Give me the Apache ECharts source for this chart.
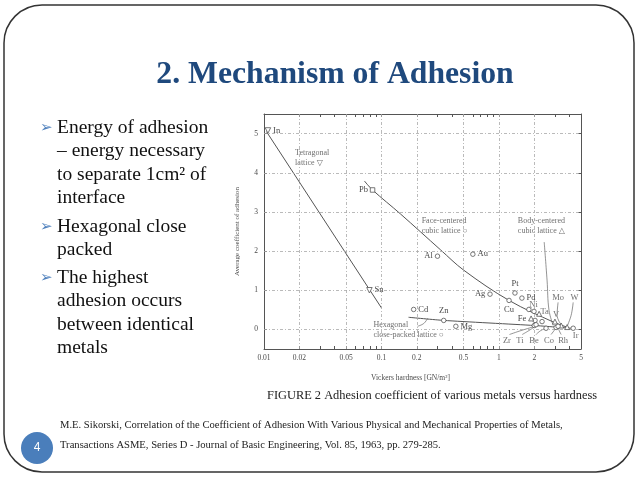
<!DOCTYPE html>
<html><head><meta charset="utf-8">
<script src="https://cdn.jsdelivr.net/npm/echarts@6/dist/echarts.min.js"></script>
<style>html,body{margin:0;padding:0;background:#fff}#c{width:638px;height:479px}</style>
</head><body><div id="c"></div>
<script>
// ---------- data ----------
const xTickLabels = [0.01, 0.02, 0.05, 0.1, 0.2, 0.5, 1, 2, 5];
const xMinorTicks = [0.01,0.02,0.03,0.04,0.05,0.06,0.07,0.08,0.09,0.1,0.2,0.3,0.4,0.5,0.6,0.7,0.8,0.9,1,2,3,4,5];
const xGridValues = [0.02, 0.05, 0.1, 0.2, 0.5, 1, 2];
const yTickLabels = [0, 1, 2, 3, 4, 5];

const tetragonalLine = [[0.0105, 5.05], [0.1, 0.55]];
const fccCurve = [[0.0716, 3.79], [0.084, 3.56], [0.145, 2.95], [0.319, 2.03], [0.503, 1.51], [1.22, 0.74], [2.95, 0.18], [3.89, 0.05]];
const hcpLine = [[0.170, 0.31], [0.339, 0.23], [2.0, 0.10], [4.12, 0.03]];

const tetragonalMetals = [['In', 0.0108, 5.08], ['Sn', 0.079, 1.0]];
const leadMetal = [['Pb', 0.084, 3.56]];
const fccMetals = [['Al', 0.30, 1.87], ['Au', 0.60, 1.92], ['Ag', 0.84, 0.90], ['Pt', 1.37, 0.93], ['Cu', 1.22, 0.74],
  ['Pd', 1.57, 0.80], ['', 1.80, 0.51], ['', 1.99, 0.46], ['', 2.03, 0.23], ['', 2.33, 0.20], ['', 4.29, 0.03]];
const bccMetals = [['Fe', 1.88, 0.28], ['', 2.2, 0.40], ['', 3.0, 0.20], ['', 3.39, 0.10], ['', 3.81, 0.06]];
const hcpMetals = [['Cd', 0.188, 0.51], ['Zn', 0.339, 0.23], ['Mg', 0.43, 0.08], ['', 2.0, 0.10], ['', 2.07, 0.12],
  ['', 2.52, 0.03], ['', 3.07, 0.05], ['', 3.19, 0.08]];

const latticeNotes = [['Tetragonal\nlattice ▽', 0.0184, 4.38], ['Face-centered\ncubic lattice ○', 0.220, 2.64],
  ['Body-centered\ncubic lattice △', 1.45, 2.64], ['Hexagonal\nclose-packed lattice ○', 0.0855, -0.01]];
const metalTags = [['Zr', 1.17, -0.28], ['Ti', 1.51, -0.28], ['Be', 1.99, -0.28], ['Co', 2.67, -0.28], ['Rh', 3.52, -0.28],
  ['Ir', 4.5, -0.15], ['Mo', 3.19, 0.82], ['W', 4.4, 0.82], ['V', 3.07, 0.38], ['Ni', 1.97, 0.63], ['Ta', 2.45, 0.46]];
const leaders = [
  [[1.23, -0.13], [1.54, -0.03], [1.99, 0.07]],
  [[1.58, -0.13], [1.80, -0.03], [2.07, 0.09]],
  [[2.07, -0.13], [2.27, -0.03], [2.52, 0.03]],
  [[2.78, -0.13], [2.95, -0.03], [3.07, 0.05]],
  [[3.39, -0.13], [3.26, -0.03], [3.19, 0.07]],
  [[3.19, 0.69], [3.13, 0.36], [3.39, 0.12]],
  [[4.29, 0.69], [4.12, 0.36], [3.81, 0.08]],
  [[2.43, 2.23], [2.57, 1.26], [2.67, 0.49], [2.90, 0.10]],
  [[0.203, 0.08], [0.229, 0.15], [0.247, 0.28]],
  [[1.90, 0.56], [1.82, 0.52]]
];

const titleText = '2. Mechanism of Adhesion';
const bulletParas = [
  ['Energy of adhesion', '– energy necessary', 'to separate 1cm² of', 'interface'],
  ['Hexagonal close', 'packed'],
  ['The highest', 'adhesion occurs', 'between identical', 'metals']
];
const captionText = 'FIGURE 2 Adhesion coefficient of various metals versus hardness';
const citationLines = ['M.E. Sikorski, Correlation of the Coefficient of Adhesion With Various Physical and Mechanical Properties of Metals,',
  'Transactions ASME, Series D - Journal of Basic Engineering, Vol. 85, 1963, pp. 279-285.'];
const pageNumber = '4';

// ---------- styles ----------
const labelPos = { In: 'right', Sn: 'right', Pb: 'left', Al: 'left', Au: 'right', Ag: 'left', Pt: 'top', Cu: 'bottom',
  Pd: 'right', Fe: 'left', Cd: 'right', Zn: 'top', Mg: 'right' };
const SERIF = '"Liberation Serif", "DejaVu Serif", serif';
const INK = '#4a4a4a';
const chartFont = { fontFamily: SERIF, color: INK };

function pts(arr) {
  return arr.map(([n, x, y]) => ({ name: n, value: [x, y], label: { position: labelPos[n] || 'right' } }));
}
function metalSeries(arr, symbol, size, rotate) {
  return {
    type: 'scatter', data: pts(arr), symbol: symbol, symbolSize: size, symbolRotate: rotate || 0,
    itemStyle: { color: '#fff', borderColor: '#555', borderWidth: 0.8, opacity: 1 }, z: 5,
    label: { show: true, formatter: '{b}', fontSize: 8.5, distance: 2, ...chartFont }
  };
}
function lineSeries(data, smooth) {
  return { type: 'line', data: data, symbol: 'none', smooth: smooth || false, lineStyle: { color: '#555', width: 1 }, z: 3 };
}

const series = [
  Object.assign(lineSeries(tetragonalLine), {
    markLine: {
      silent: true, symbol: ['none', 'none'], label: { show: false },
      lineStyle: { color: '#a8a8a8', width: 0.8, type: [3, 2, 1, 2] },
      data: [...xGridValues.map(v => ({ xAxis: v })), ...yTickLabels.map(v => ({ yAxis: v }))]
    }
  }),
  lineSeries(fccCurve, 0.35),
  lineSeries(hcpLine, 0.2),
  ...leaders.map(l => Object.assign(lineSeries(l, 0.4), { lineStyle: { color: '#666', width: 0.7 } })),
  metalSeries(tetragonalMetals, 'triangle', 5.5, 180),
  metalSeries(leadMetal, 'rect', 4.5),
  metalSeries(fccMetals, 'circle', 4.5),
  metalSeries(bccMetals, 'triangle', 5),
  metalSeries(hcpMetals, 'circle', 4.5),
  {
    type: 'scatter', symbolSize: 0, data: latticeNotes.map(([n, x, y]) => ({ name: n, value: [x, y] })),
    label: { show: true, position: 'right', distance: 0, formatter: '{b}', fontSize: 8, lineHeight: 10, align: 'left', ...chartFont }
  },
  {
    type: 'scatter', symbolSize: 0, data: metalTags.map(([n, x, y]) => ({ name: n, value: [x, y] })),
    label: { show: true, position: 'inside', formatter: '{b}', fontSize: 8.5, ...chartFont }
  }
];

const fmt = v => String(parseFloat(Number(v).toPrecision(4)));
const axisLineStyle = { color: '#555', width: 1 };

// ---------- slide graphics ----------
const graphic = [
  { type: 'rect', shape: { x: 4, y: 5, width: 630, height: 467, r: 38 }, style: { fill: 'none', stroke: '#333', lineWidth: 1.5 }, z: -10, silent: true },
  { type: 'text', x: 335, y: 75, style: { text: titleText, fontFamily: SERIF, fontWeight: 'bold', fontSize: 31.7, fill: '#1F497D', align: 'center', verticalAlign: 'middle' } }
];
const paraStart = [128, 227, 278];
bulletParas.forEach((lines, p) => {
  graphic.push({ type: 'text', x: 40, y: paraStart[p], style: { text: '➢', fontFamily: '"DejaVu Sans"', fontSize: 15, fill: '#4F81BD', verticalAlign: 'middle' } });
  lines.forEach((t, i) => {
    graphic.push({ type: 'text', x: 57, y: paraStart[p] + i * 23.3, style: { text: t, fontFamily: SERIF, fontSize: 19.5, fill: '#111', verticalAlign: 'middle' } });
  });
});
graphic.push({ type: 'text', x: 267, y: 396, style: { text: captionText, fontFamily: SERIF, fontSize: 12.4, fill: '#222', verticalAlign: 'middle' } });
citationLines.forEach((t, i) => {
  graphic.push({ type: 'text', x: 60, y: 425 + i * 20, style: { text: t, fontFamily: SERIF, fontSize: 10.6, fill: '#222', verticalAlign: 'middle' } });
});
graphic.push({ type: 'circle', shape: { cx: 37, cy: 448, r: 16 }, style: { fill: '#4A7EBB' } });
graphic.push({ type: 'text', x: 37, y: 448, style: { text: pageNumber, fontFamily: '"Liberation Sans"', fontSize: 12, fill: '#fff', align: 'center', verticalAlign: 'middle' } });

const chart = echarts.init(document.getElementById('c'), null, { renderer: 'canvas' });
chart.setOption({
  animation: false,
  backgroundColor: '#fff',
  grid: { left: 264, right: 57, top: 114, bottom: 130, containLabel: false },
  xAxis: [
    {
      type: 'log', logBase: 10, min: 0.01, max: 5, position: 'bottom',
      axisLine: { show: true, onZero: false, lineStyle: axisLineStyle },
      axisTick: { show: true, inside: true, length: 3, customValues: xMinorTicks, lineStyle: axisLineStyle },
      axisLabel: { show: true, customValues: xTickLabels, formatter: fmt, fontSize: 7.5, margin: 5, ...chartFont },
      splitLine: { show: false }, minorTick: { show: false },
      name: 'Vickers hardness [GN/m²]', nameLocation: 'middle', nameGap: 25,
      nameTextStyle: { fontSize: 7.5, padding: [0, 24, 0, 0], ...chartFont }
    },
    {
      type: 'log', logBase: 10, min: 0.01, max: 5, position: 'top',
      axisLine: { show: true, onZero: false, lineStyle: axisLineStyle },
      axisTick: { show: true, inside: true, length: 3, customValues: xMinorTicks, lineStyle: axisLineStyle },
      axisLabel: { show: false }, splitLine: { show: false }
    }
  ],
  yAxis: [
    {
      type: 'value', min: -0.5, max: 5.5, position: 'left',
      axisLine: { show: true, onZero: false, lineStyle: axisLineStyle },
      axisTick: { show: true, inside: true, length: 3, customValues: yTickLabels, lineStyle: axisLineStyle },
      axisLabel: { show: true, customValues: yTickLabels, fontSize: 7.5, margin: 6, ...chartFont },
      splitLine: { show: false },
      name: 'Average coefficient of adhesion', nameLocation: 'middle', nameGap: 23,
      nameTextStyle: { fontSize: 7, ...chartFont }
    },
    {
      type: 'value', min: -0.5, max: 5.5, position: 'right',
      axisLine: { show: true, onZero: false, lineStyle: axisLineStyle },
      axisTick: { show: true, inside: true, length: 3, customValues: yTickLabels, lineStyle: axisLineStyle },
      axisLabel: { show: false }, splitLine: { show: false }
    }
  ],
  series: series,
  graphic: graphic
});
</script></body></html>
